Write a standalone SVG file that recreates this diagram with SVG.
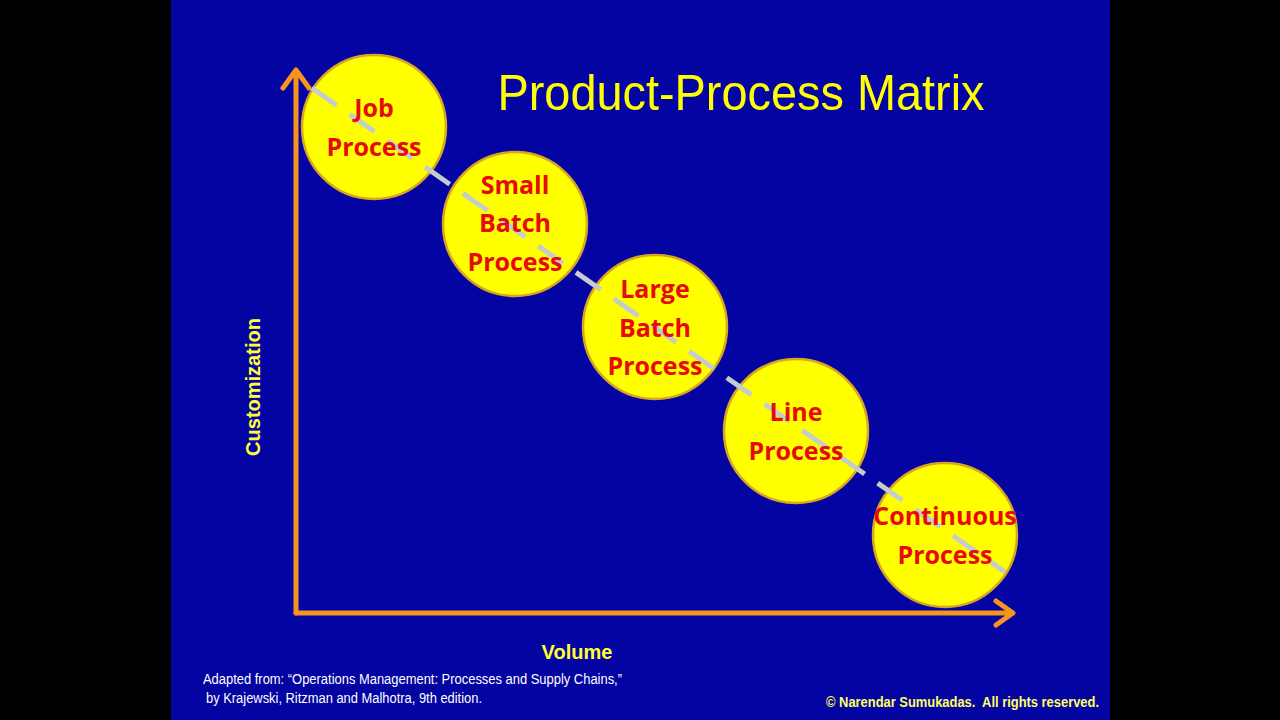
<svg xmlns="http://www.w3.org/2000/svg" width="1280" height="720" viewBox="0 0 1280 720">
<defs>
<style>
.node circle{fill:#ffff00;stroke:#d9a520;stroke-width:2.5}
.node text{fill:#e60a0a;font-family:"Open Sans","Liberation Sans",sans-serif;font-weight:bold;font-size:25px;text-anchor:middle}
.axis{stroke:#f7941d;stroke-width:5;fill:none;stroke-linecap:round;stroke-linejoin:round}
.lbl{fill:#ffff33;font-family:"Liberation Sans",Arial,sans-serif;font-weight:bold;font-size:20px;text-anchor:middle}
.note{fill:#ffffff;font-family:"Liberation Sans",Arial,sans-serif;font-size:14px}
</style>
</defs>
<rect x="0" y="0" width="1280" height="720" fill="#000000"/>
<rect x="171" y="0" width="939" height="720" fill="#0404a2"/>
<text x="741" y="110" fill="#ffff00" font-family="Liberation Sans, Arial, sans-serif" font-size="50" text-anchor="middle" textLength="487" lengthAdjust="spacingAndGlyphs">Product-Process Matrix</text>
<g id="axes">
<path class="axis" d="M296,613 V70 M283,88 L296,70 L309,88"/>
<path class="axis" d="M296,613 H1012 M996,601 L1013,613 L996,625"/>
</g>
<g id="job" class="node"><circle cx="374" cy="127" r="72"/></g>
<g id="small-batch" class="node"><circle cx="515" cy="224" r="72"/></g>
<g id="large-batch" class="node"><circle cx="655" cy="327" r="72"/></g>
<g id="line" class="node"><circle cx="796" cy="431" r="72"/></g>
<g id="continuous" class="node"><circle cx="945" cy="535" r="72"/></g>
<g id="connectors">
<line x1="312" y1="88" x2="1005" y2="572" stroke="#c4cccc" stroke-width="5" stroke-dasharray="30,16"/>
</g>
<g class="node">
<text x="374" y="117">Job</text><text x="374" y="156">Process</text>
<text x="515" y="194">Small</text><text x="515" y="232">Batch</text><text x="515" y="271">Process</text>
<text x="655" y="298">Large</text><text x="655" y="337">Batch</text><text x="655" y="375">Process</text>
<text x="796" y="421">Line</text><text x="796" y="460">Process</text>
<text x="945" y="525">Continuous</text><text x="945" y="564">Process</text>
</g>
<text class="lbl" x="577" y="659">Volume</text>
<text class="lbl" transform="translate(260,387) rotate(-90)">Customization</text>
<text class="note" x="203" y="684" textLength="419" lengthAdjust="spacingAndGlyphs">Adapted from: “Operations Management: Processes and Supply Chains,”</text>
<text class="note" x="206" y="703" textLength="276" lengthAdjust="spacingAndGlyphs">by Krajewski, Ritzman and Malhotra, 9th edition.</text>
<text x="826" y="707" fill="#ffff66" font-family="Liberation Sans, Arial, sans-serif" font-weight="bold" font-size="14" textLength="273" lengthAdjust="spacingAndGlyphs" xml:space="preserve">© Narendar Sumukadas.  All rights reserved.</text>
</svg>
